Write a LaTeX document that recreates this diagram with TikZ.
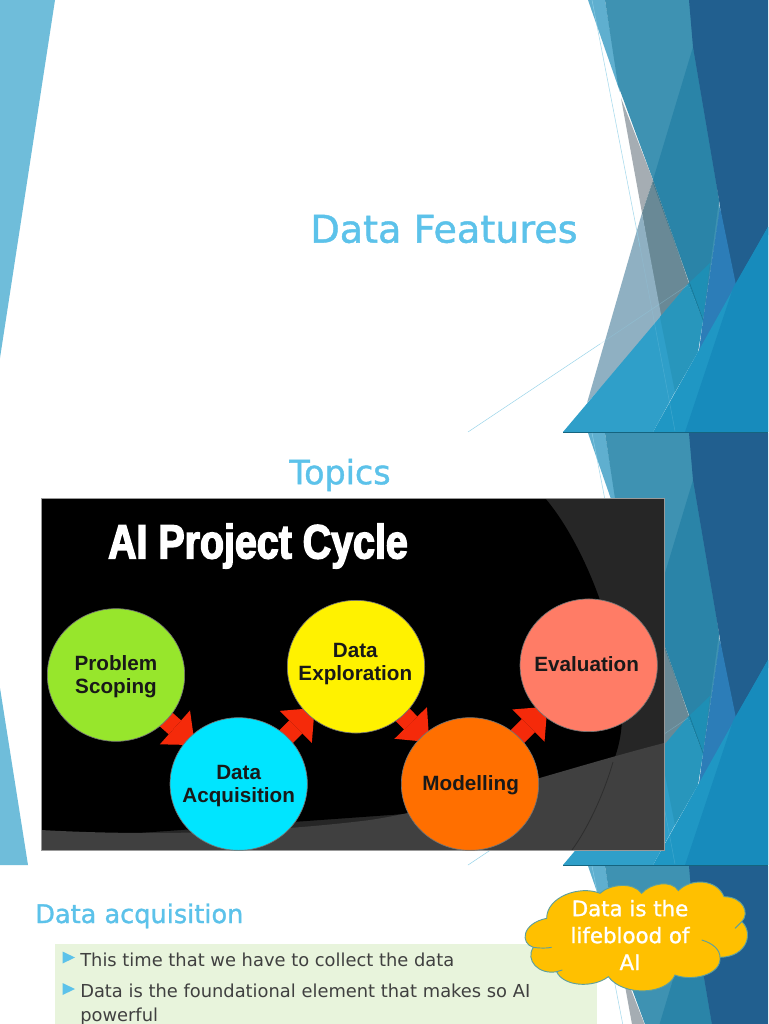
\documentclass[tikz,border=0pt]{standalone}
\usepackage{fontspec}
\setmainfont{DejaVu Sans}
\newfontfamily\armo{Liberation Sans}
\newfontfamily\headfont[FakeBold=1.2]{DejaVu Sans}
\newfontfamily\posterfont[FakeStretch=0.82,FakeBold=3]{Liberation Sans Bold}
\usetikzlibrary{shapes.geometric,arrows.meta}
\pgfdeclarelayer{under}
\pgfdeclarelayer{links}
\pgfsetlayers{under,links,main}
\definecolor{skyA}{HTML}{6FBDDA}
\definecolor{stripA}{HTML}{5FAFCF}
\definecolor{tealA}{HTML}{3E92B2}
\definecolor{tealB}{HTML}{2A84A8}
\definecolor{navyA}{HTML}{215F8F}
\definecolor{royalA}{HTML}{2C7DB8}
\definecolor{greyA}{HTML}{A5ADB3}
\definecolor{greyB}{HTML}{698996}
\definecolor{greyC}{HTML}{8FB0C2}
\definecolor{wedgeA}{HTML}{2F9FC9}
\definecolor{wedgeB}{HTML}{2896BC}
\definecolor{wedgeC}{HTML}{1E8FB5}
\definecolor{prowA}{HTML}{1F97C4}
\definecolor{prowB}{HTML}{178BBC}
\definecolor{hairline}{HTML}{8FD0E8}
\definecolor{heading}{HTML}{5CC2EA}
\definecolor{bodytext}{HTML}{404040}
\definecolor{panelgreen}{HTML}{E8F4DC}
\definecolor{cloudgold}{HTML}{FFC000}
\definecolor{cloudedge}{HTML}{5E9F9E}
\definecolor{duskA}{HTML}{262626}
\definecolor{duskB}{HTML}{404040}
\definecolor{flowred}{HTML}{F52A0A}
\definecolor{stageA}{HTML}{97E62C}
\definecolor{stageB}{HTML}{00E5FF}
\definecolor{stageC}{HTML}{FFF200}
\definecolor{stageD}{HTML}{FF6F00}
\definecolor{stageE}{HTML}{FF7C66}
\tikzset{
  stage/.style={ellipse,minimum width=103pt,minimum height=99.5pt,inner sep=0pt,
    draw=black!55,line width=.5pt,text=black!90,
    font=\armo\bfseries\fontsize{15.5}{17.3}\selectfont},
  flow/.style={draw=flowred,line width=14pt,shorten >=-7pt,shorten <=-6pt,
    -{Triangle[length=20pt,width=34pt,line width=0pt]}},
  headline/.style={text=heading,inner sep=0pt},
  bullettext/.style={text=bodytext,inner sep=0pt,anchor=base west,
    font=\fontsize{13.4}{17}\selectfont},
  bulletmark/.style={fill=heading}
}
% Label set inside a circle without enlarging it: #1 right, #2 up, #3 the lines.
\newcommand{\stagelabel}[3]{\makebox[0pt]{\hspace*{#1}\raisebox{#2}[0pt][0pt]{\begin{tabular}{@{}c@{}}#3\end{tabular}}}}
% Angular ribbon decoration shared by every slide; #1 is the slide's top edge.
\newcommand{\ribbons}[1]{%
  \begin{scope}[shift={(0,#1)}]
    \fill[stripA] (588,0)--(605,0)--(620,92)--cycle;
    \fill[tealA] (605,0)--(693,0)--(720,210)--(703,320)--(653,180)--(618,85)--cycle;
    \fill[tealB] (693,47)--(653,180)--(703,320)--(719,200)--cycle;
    \fill[greyA] (621,98)--(653,180)--(642,213)--cycle;
    \fill[greyB] (642,213)--(653,180)--(690,286)--(660,319)--cycle;
    \fill[greyC] (642,213)--(587,403)--(662,320)--cycle;
    \fill[navyA] (689,0)--(768,0)--(768,235)--(733,295)--(719,200)--(693,47)--cycle;
    \fill[royalA] (720,207)--(736,285)--(698,358)--(703,320)--cycle;
    \fill[wedgeA] (563,432)--(688,284)--(703,320)--(698,350)--(653,432)--cycle;
    \fill[wedgeB] (660,317)--(675,392)--(698,352)--(703,320)--(688,284)--cycle;
    \fill[wedgeC] (688,284)--(710,263)--(703,320)--cycle;
    \fill[prowA] (653,432)--(768,227)--(768,432)--cycle;
    \fill[prowB] (685,432)--(733,288)--(768,227)--(768,432)--cycle;
    \draw[hairline,line width=.4pt,opacity=.8] (592,0)--(640,247);
    \draw[hairline,line width=.4pt,opacity=.25] (640,247)--(675,431);
    \draw[hairline,line width=.4pt,opacity=.9] (468,432)--(600,344);
    \draw[hairline,line width=.4pt,opacity=.35] (600,344)--(688,285);
    \draw[black!30!wedgeC,line width=.4pt,opacity=.6] (653,182)--(703,320);
    \fill[wedgeC!70!black] (563,431.5) rectangle (768,433);
  \end{scope}}
\begin{document}
\begin{tikzpicture}[x=.75pt,y=-.75pt]
\useasboundingbox (0,0) rectangle (768,1024);
\clip (0,0) rectangle (768,1024);

\begin{pgfonlayer}{under}
  \fill[white] (0,0) rectangle (768,1024);
  % slide backgrounds
  \ribbons{0}
  \fill[skyA] (0,0)--(55,0)--(0,358)--cycle;
  \ribbons{433}
  \fill[skyA] (0,688)--(28,865)--(0,865)--cycle;
  \ribbons{866}
  \fill[white] (0,866) rectangle (560,1024);
  % project cycle poster
  \fill[duskA] (41,498) rectangle (664,850);
  \fill[black] (41,498)--(545,498) .. controls (585,545) and (622,640) .. (622,715)
     .. controls (622,735) and (618,750) .. (612,765)--(600,800)--(41,840)--cycle;
  \fill[duskB] (41,830) .. controls (130,835) and (250,835) .. (370,820)
     .. controls (450,808) and (560,770) .. (664,743)--(664,850)--(41,850)--cycle;
  \draw[duskA!70!duskB,line width=.6pt] (613,762) .. controls (605,790) and (590,825) .. (572,850);
  \draw[black!40,line width=.5pt] (41,498) rectangle (664,850);
\end{pgfonlayer}

\node[headline,font=\headfont\fontsize{28.6}{34}\selectfont] (maintitle) at (444,229) {Data Features};
\node[headline,font=\headfont\fontsize{25}{30}\selectfont] (topics) at (340,475) {Topics};
\node[text=white,inner sep=0pt,font=\posterfont\fontsize{36}{40}\selectfont] (postertitle) at (258,546) {AI Project Cycle};

\node[stage,fill=stageA] (scoping) at (116,675) {\stagelabel{0pt}{-5.25pt}{Problem\\Scoping}};
\node[stage,fill=stageB] (acquisition) at (238.7,784) {\stagelabel{0pt}{-5.25pt}{Data\\Acquisition}};
\node[stage,fill=stageC] (exploration) at (356,666.7) {\stagelabel{-1pt}{-2pt}{Data\\Exploration}};
\node[stage,fill=stageD] (modelling) at (470,784) {\stagelabel{1pt}{-5.25pt}{Modelling}};
\node[stage,fill=stageE] (evaluation) at (588.7,665.3) {\stagelabel{-3pt}{-4.5pt}{Evaluation}};

\begin{pgfonlayer}{links}
  \draw[flow] (scoping) -- (acquisition);
  \draw[flow] (acquisition) -- (exploration);
  \draw[flow] (exploration) -- (modelling);
  \draw[flow] (modelling) -- (evaluation);
\end{pgfonlayer}

% third slide
\node[headline,anchor=base west,font=\headfont\fontsize{19.2}{24}\selectfont] (acqhead) at (35,923) {Data acquisition};
\fill[panelgreen] (55,944) rectangle (597,1024);
\fill[bulletmark] (62.5,951.5)--(75,957.5)--(62.5,963.5)--cycle;
\fill[bulletmark] (62.5,983)--(75,989)--(62.5,995)--cycle;
\node[bullettext] (lineone) at (80,966) {This time that we have to collect the data};
\node[bullettext] (linetwo) at (80,997) {Data is the foundational element that makes so AI};
\node[bullettext] (linethree) at (80,1021) {powerful};

% callout cloud
\begin{scope}[shift={(500,860)},x=.25pt,y=-.25pt]
  \filldraw[fill=cloudgold,draw=cloudedge,line width=.7pt]
    (140,175) .. controls (140,110) and (240,75) .. (300,100)
    .. controls (330,72) and (400,65) .. (425,100)
    .. controls (450,70) and (515,58) .. (535,92)
    .. controls (570,55) and (650,55) .. (672,110)
    .. controls (730,110) and (750,160) .. (725,185)
    .. controls (760,215) and (745,290) .. (660,292)
    .. controls (665,345) and (575,365) .. (525,345)
    .. controls (500,405) and (370,410) .. (325,350)
    .. controls (280,385) and (190,380) .. (170,335)
    .. controls (115,345) and (75,300) .. (100,262)
    .. controls (60,250) and (65,190) .. (140,175) -- cycle;
  \draw[cloudedge,line width=.7pt] (725,185) -- (705,205);
  \draw[cloudedge,line width=.7pt] (605,240) .. controls (640,250) and (660,270) .. (660,292);
  \draw[cloudedge,line width=.7pt] (100,262) .. controls (120,265) and (140,265) .. (155,262);
  \draw[cloudedge,line width=.7pt] (170,335) -- (187,330);
\end{scope}
\node[text=white,inner sep=0pt,align=center,font=\headfont\fontsize{16}{20.2}\selectfont] (callout) at (630,935)
  {Data is the\\lifeblood of\\AI};
\end{tikzpicture}
\end{document}
